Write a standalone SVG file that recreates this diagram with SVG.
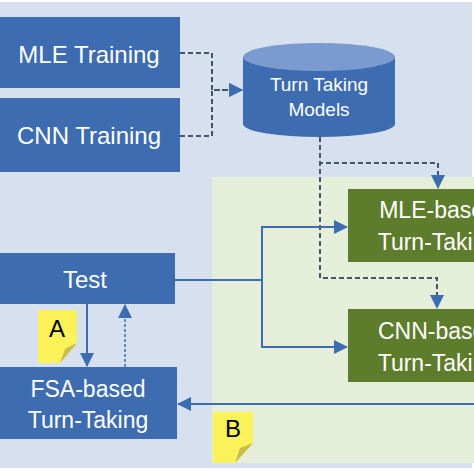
<svg xmlns="http://www.w3.org/2000/svg" width="474" height="474" viewBox="0 0 474 474">
<style>
.box{fill:#3d6cb1}
.gbox{fill:#5e7d2c}
.lbl{font-family:"Liberation Sans",Arial,sans-serif;fill:#ffffff;text-anchor:middle}
.note{fill:#fbf25a}
.fold{fill:#c9bd45}
.nl{font-family:"Liberation Sans",Arial,sans-serif;fill:#000000;text-anchor:middle;font-size:24px}
.dash{fill:none;stroke:#44546a;stroke-width:2;stroke-dasharray:5,3}
.fine{fill:none;stroke:#3d6cb1;stroke-width:1.5;stroke-dasharray:3,2}
.solid{fill:none;stroke:#3d6cb1;stroke-width:2}
</style>
<defs>
<marker id="arr" viewBox="0 0 14 14" refX="13" refY="7" markerWidth="14" markerHeight="14" markerUnits="userSpaceOnUse" orient="auto">
<path d="M0,0 L14,7 L0,14 z" fill="#3d6cb1"/>
</marker>
</defs>
<rect x="0" y="0" width="474" height="474" fill="#ffffff"/>
<rect x="0" y="2" width="472" height="466" fill="#d6e0ee"/>
<rect x="212" y="177" width="262" height="286" fill="#e5eed9"/>

<g id="connectors">
<path class="dash" d="M180,53 H212 V90 H242" marker-end="url(#arr)"/>
<path class="dash" d="M180,136 H212 V90 H242" marker-end="url(#arr)"/>
<path class="dash" d="M320,137 V163 H438 V188" marker-end="url(#arr)"/>
<path class="dash" d="M320,137 V278 H437 V308" marker-end="url(#arr)"/>
<path class="solid" d="M175,280 H262 V227 H347" marker-end="url(#arr)"/>
<path class="solid" d="M175,280 H262 V347 H347" marker-end="url(#arr)"/>
<path class="solid" d="M87,304 V366" marker-end="url(#arr)"/>
<path class="fine" d="M125,367 V305" marker-end="url(#arr)"/>
<path class="solid" d="M474,404 H178" marker-end="url(#arr)"/>
</g>

<g id="mle-training">
<rect class="box" x="0" y="17" width="180" height="71"/>
<text class="lbl" x="89" y="63" font-size="24">MLE Training</text>
</g>
<g id="cnn-training">
<rect class="box" x="0" y="98" width="180" height="74"/>
<text class="lbl" x="89" y="144" font-size="24">CNN Training</text>
</g>
<g id="turn-taking-models">
<path class="box" d="M243,57 V124 A76,13 0 0 0 395,124 V57 z"/>
<ellipse cx="319" cy="57" rx="76" ry="14" fill="#7b9bd0"/>
<text class="lbl" x="319" y="91" font-size="19">Turn Taking</text>
<text class="lbl" x="319" y="116" font-size="19">Models</text>
</g>
<g id="mle-based">
<rect class="gbox" x="348" y="189" width="180" height="73"/>
<text class="lbl" x="438" y="218" font-size="23">MLE-based</text>
<text class="lbl" x="438" y="250" font-size="23">Turn-Taking</text>
</g>
<g id="cnn-based">
<rect class="gbox" x="348" y="309" width="180" height="73"/>
<text class="lbl" x="438" y="339" font-size="23">CNN-based</text>
<text class="lbl" x="438" y="371" font-size="23">Turn-Taking</text>
</g>
<g id="test">
<rect class="box" x="0" y="253" width="175" height="51"/>
<text class="lbl" x="85" y="288" font-size="24">Test</text>
</g>
<g id="fsa-based">
<rect class="box" x="0" y="367" width="177" height="72"/>
<text class="lbl" x="88" y="397" font-size="23">FSA-based</text>
<text class="lbl" x="88" y="428" font-size="23">Turn-Taking</text>
</g>
<g id="note-a">
<path class="note" d="M38,310 H77 V343 L60,363 H38 z"/>
<path class="fold" d="M77,343 L60,363 L65,349 z"/>
<text class="nl" x="57" y="337">A</text>
</g>
<g id="note-b">
<path class="note" d="M213,412 H253 V443 L235,463 H213 z"/>
<path class="fold" d="M253,443 L235,463 L240,448 z"/>
<text class="nl" x="233" y="437">B</text>
</g>
</svg>
